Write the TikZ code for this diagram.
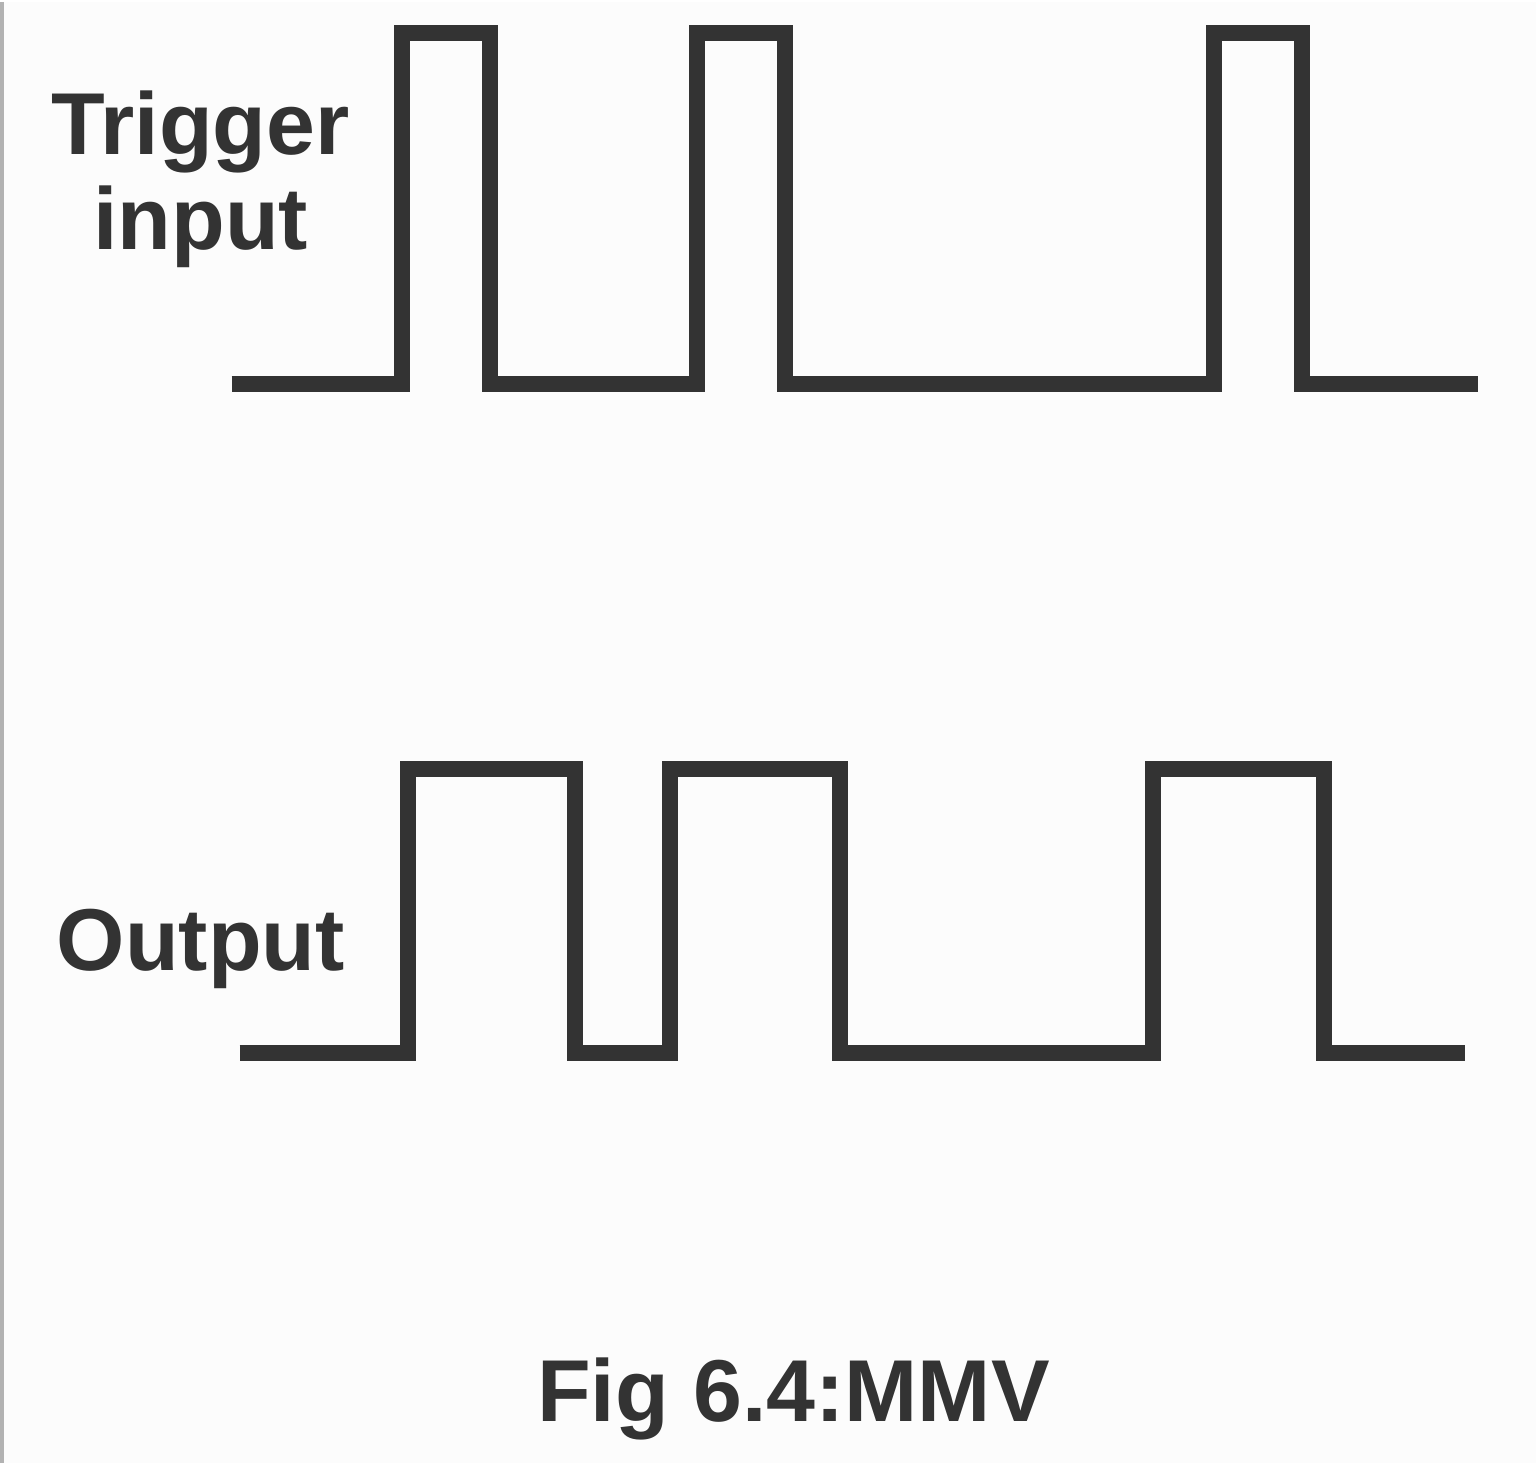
\documentclass[tikz,border=0pt]{standalone}
\usepackage{fontspec}
\setmainfont{Liberation Sans}
\begin{document}
\begin{tikzpicture}[x=0.01cm,y=-0.01cm,
  wave/.style={line width=16*0.2845pt,color=wc,line join=miter},
  lbl/.style={font=\bfseries\fontsize{25}{31}\selectfont,text=wc,align=center,inner sep=0pt}]
\definecolor{wc}{HTML}{333333}
\fill[white!98!gray] (0,0) rectangle (1536,1462);
\draw[gray!60,line width=1pt] (1,0)--(1,1462);
\draw[wave] (231,382)-|(401,31)-|(489,382)-|(697,31)-|(785,382)-|(1214,31)-|(1302,382)--(1478,382);
\draw[wave] (239,1052)-|(407,768)-|(575,1052)-|(670,768)-|(840,1052)-|(1153,768)-|(1324,1052)--(1465,1052);
\node[lbl] (trig) at (200,178) {Trigger\\[-4pt]input};
\node[lbl] (out) at (200,948) {Output};
\node[lbl] (cap) at (793,1398) {Fig 6.4:MMV};
\end{tikzpicture}
\end{document}
